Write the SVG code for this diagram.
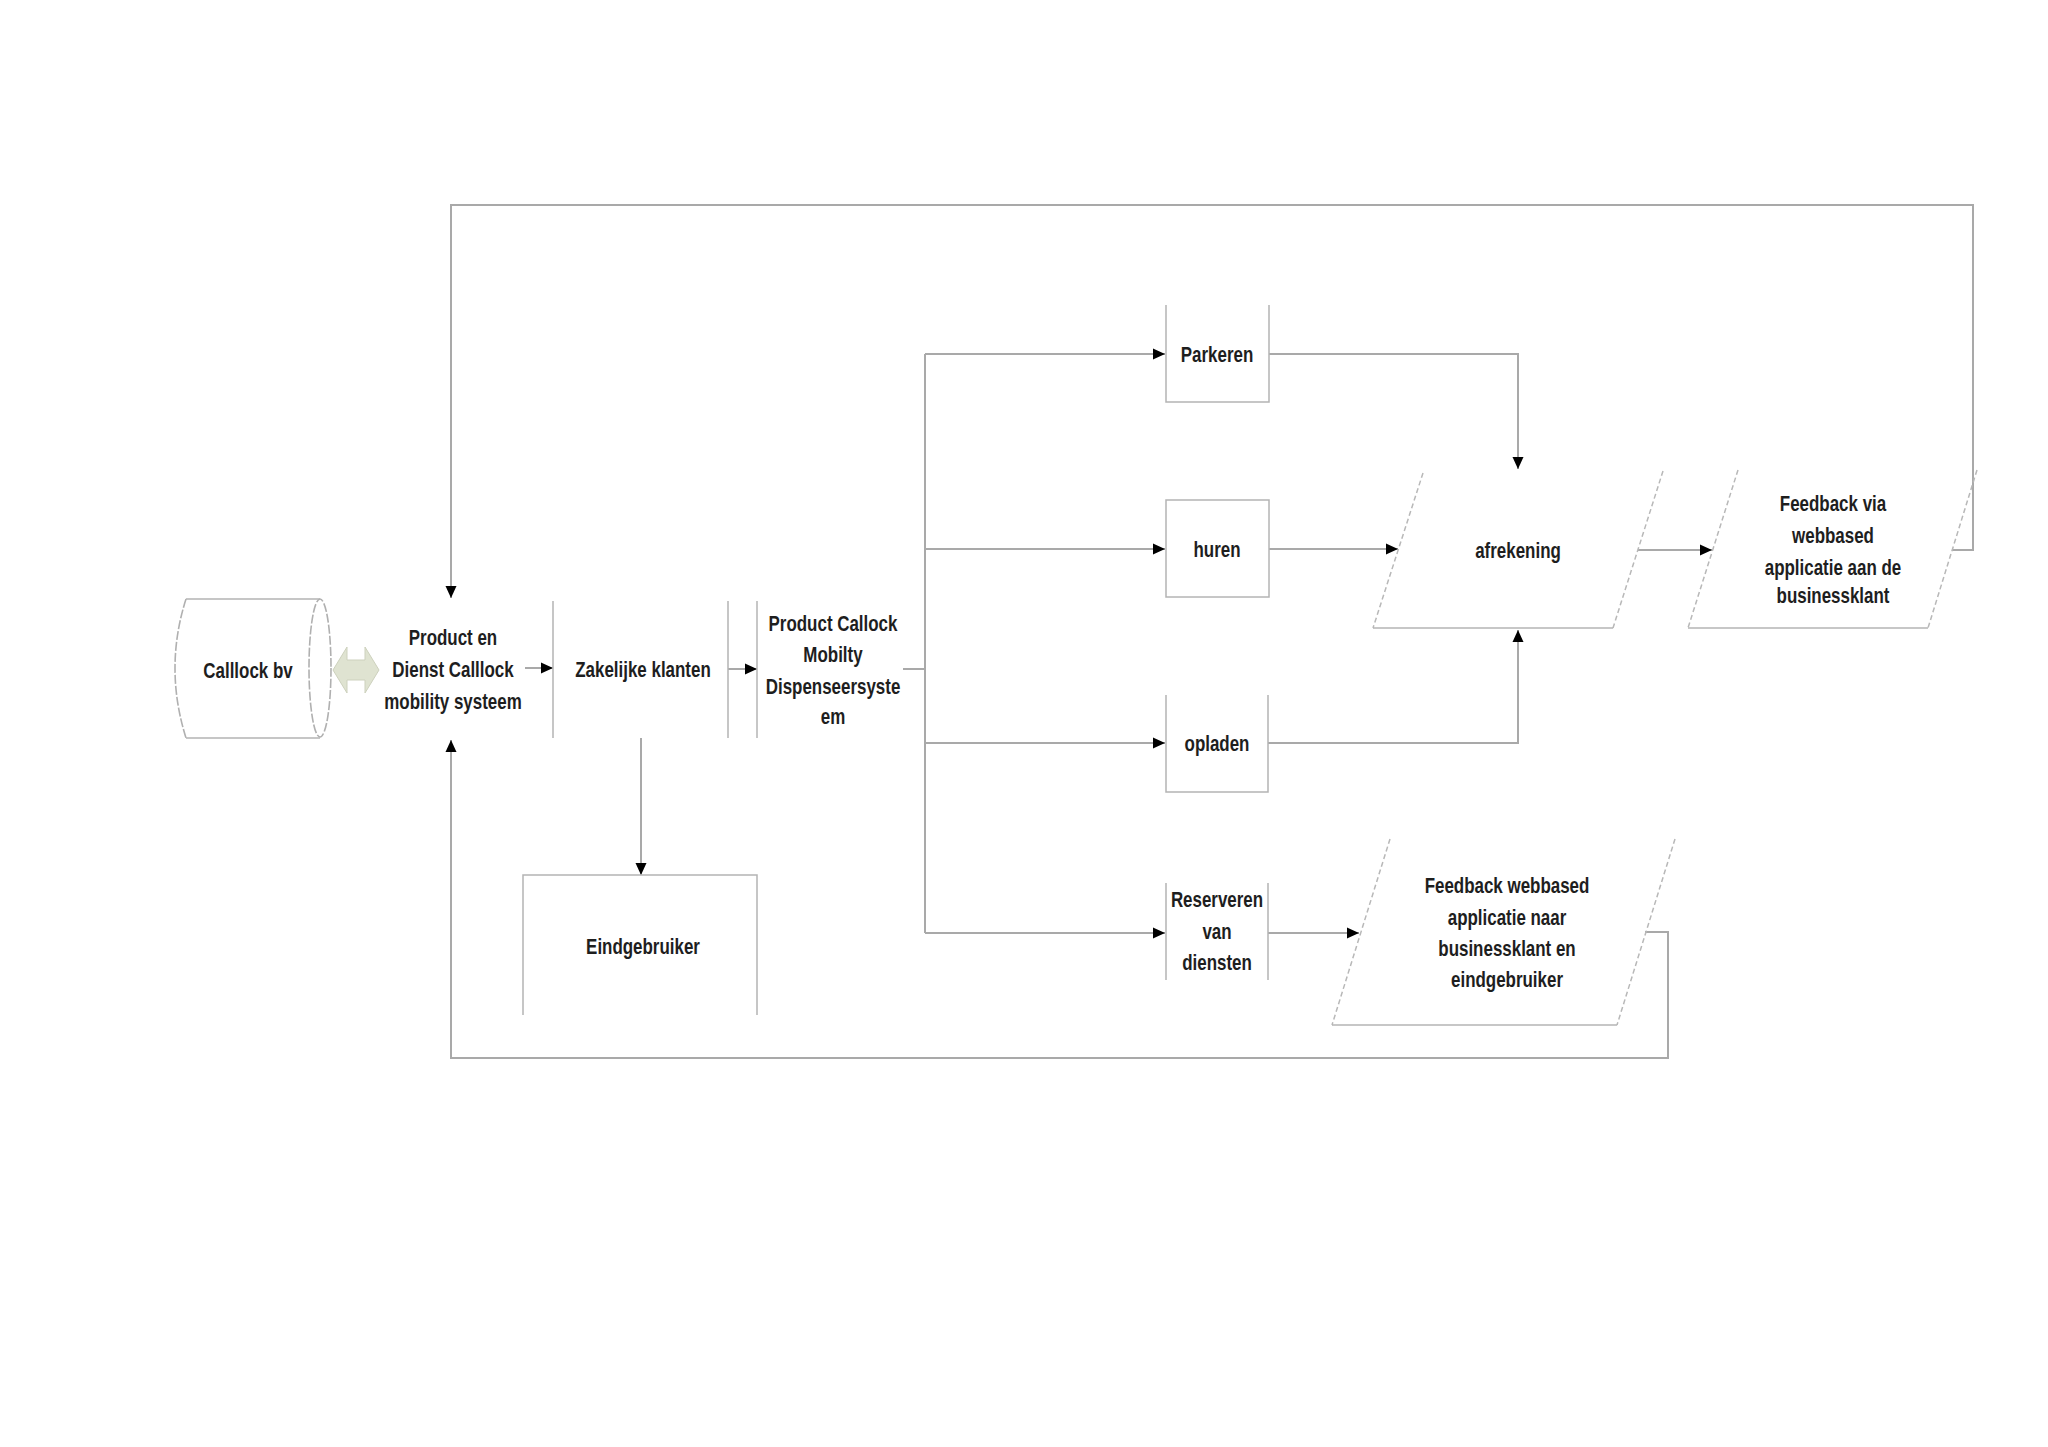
<svg xmlns="http://www.w3.org/2000/svg" width="2048" height="1447" viewBox="0 0 2048 1447">
<style>
.ln{fill:none;stroke:#a9a9a9;stroke-width:2}
.sd{fill:none;stroke:#b4b4b4;stroke-width:1.5}
.ds{fill:none;stroke:#b8b8b8;stroke-width:1.5;stroke-dasharray:5 3}
.cy{fill:none;stroke:#b0b0b0;stroke-width:1.6;stroke-dasharray:9 2}
.t{font-family:"Liberation Sans",Arial,sans-serif;font-weight:bold;font-size:22px;fill:#1e1e1e;text-anchor:middle}
</style>
<defs>
<marker id="ah" markerUnits="userSpaceOnUse" markerWidth="13" markerHeight="13" refX="12" refY="6.5" orient="auto">
<path d="M0,1 L12,6.5 L0,12 Z" fill="#000"/>
</marker>
</defs>
<rect width="2048" height="1447" fill="#fff"/>
<g id="connectors">
<path class="ln" d="M1952,550 H1973 V205 H451 V598" marker-end="url(#ah)"/>
<path class="ln" d="M1645,932 H1668 V1058 H451 V740" marker-end="url(#ah)"/>
<path class="ln" d="M525,668 H553" marker-end="url(#ah)"/>
<path class="ln" d="M728,669 H757" marker-end="url(#ah)"/>
<path class="ln" d="M641,738 V875" marker-end="url(#ah)"/>
<path class="ln" d="M903,669 H925 M925,354 V933"/>
<path class="ln" d="M925,354 H1165" marker-end="url(#ah)"/>
<path class="ln" d="M925,549 H1165" marker-end="url(#ah)"/>
<path class="ln" d="M925,743 H1165" marker-end="url(#ah)"/>
<path class="ln" d="M925,933 H1165" marker-end="url(#ah)"/>
<path class="ln" d="M1269,354 H1518 V469" marker-end="url(#ah)"/>
<path class="ln" d="M1269,549 H1398" marker-end="url(#ah)"/>
<path class="ln" d="M1268,743 H1518 V630" marker-end="url(#ah)"/>
<path class="ln" d="M1638,550 H1712" marker-end="url(#ah)"/>
<path class="ln" d="M1268,933 H1359" marker-end="url(#ah)"/>
</g>
<g id="calllock">
<path class="sd" d="M320,599 H186 M186,738 H320"/>
<path class="cy" d="M186,599 Q164,668 186,738"/>
<ellipse class="cy" cx="320" cy="668" rx="11" ry="69"/>
<text class="t" transform="translate(248,678) scale(0.77 1)">Calllock bv</text>
</g>
<g id="dubbelpijl">
<path d="M333,670 L347,647 L347,660 L365,660 L365,647 L379,670 L365,693 L365,680 L347,680 L347,693 Z" fill="#dfe3d1" stroke="#cdd1bd" stroke-width="1"/>
</g>
<g id="product-dienst">
<text class="t" transform="translate(453,645) scale(0.77 1)"><tspan x="0" y="0">Product en</tspan><tspan x="0" y="32">Dienst Calllock</tspan><tspan x="0" y="64">mobility systeem</tspan></text>
</g>
<g id="zakelijke-klanten">
<path class="sd" d="M553,601 V738 M728,601 V738"/>
<text class="t" transform="translate(643,677) scale(0.77 1)">Zakelijke klanten</text>
</g>
<g id="dispenseersysteem">
<path class="sd" d="M757,601 V738"/>
<text class="t" transform="translate(833,631) scale(0.77 1)"><tspan x="0" y="0">Product Callock</tspan><tspan x="0" y="31">Mobilty</tspan><tspan x="0" y="63">Dispenseersyste</tspan><tspan x="0" y="93">em</tspan></text>
</g>
<g id="eindgebruiker">
<path class="sd" d="M523,1015 V875 H757 V1015"/>
<text class="t" transform="translate(643,954) scale(0.77 1)">Eindgebruiker</text>
</g>
<g id="parkeren">
<path class="sd" d="M1166,305 V402 H1269 V305"/>
<text class="t" transform="translate(1217,362) scale(0.77 1)">Parkeren</text>
</g>
<g id="huren">
<rect class="sd" x="1166" y="500" width="103" height="97"/>
<text class="t" transform="translate(1217,557) scale(0.77 1)">huren</text>
</g>
<g id="opladen">
<path class="sd" d="M1166,695 V792 H1268 V695"/>
<text class="t" transform="translate(1217,751) scale(0.77 1)">opladen</text>
</g>
<g id="reserveren">
<path class="sd" d="M1166,883 V980 M1268,883 V980"/>
<text class="t" transform="translate(1217,907) scale(0.77 1)"><tspan x="0" y="0">Reserveren</tspan><tspan x="0" y="32">van</tspan><tspan x="0" y="63">diensten</tspan></text>
</g>
<g id="afrekening">
<path class="ds" d="M1423,473 L1373,628 M1663,471 L1613,628"/>
<path class="sd" d="M1373,628 H1613"/>
<text class="t" transform="translate(1518,558) scale(0.77 1)">afrekening</text>
</g>
<g id="feedback-businessklant">
<path class="ds" d="M1738,470 L1688,628 M1977,470 L1928,628"/>
<path class="sd" d="M1688,628 H1928"/>
<text class="t" transform="translate(1833,511) scale(0.77 1)"><tspan x="0" y="0">Feedback via</tspan><tspan x="0" y="32">webbased</tspan><tspan x="0" y="64">applicatie aan de</tspan><tspan x="0" y="92">businessklant</tspan></text>
</g>
<g id="feedback-eindgebruiker">
<path class="ds" d="M1390,839 L1332,1025 M1675,839 L1617,1025"/>
<path class="sd" d="M1332,1025 H1617"/>
<text class="t" transform="translate(1507,893) scale(0.77 1)"><tspan x="0" y="0">Feedback webbased</tspan><tspan x="0" y="32">applicatie naar</tspan><tspan x="0" y="63">businessklant en</tspan><tspan x="0" y="94">eindgebruiker</tspan></text>
</g>
</svg>
